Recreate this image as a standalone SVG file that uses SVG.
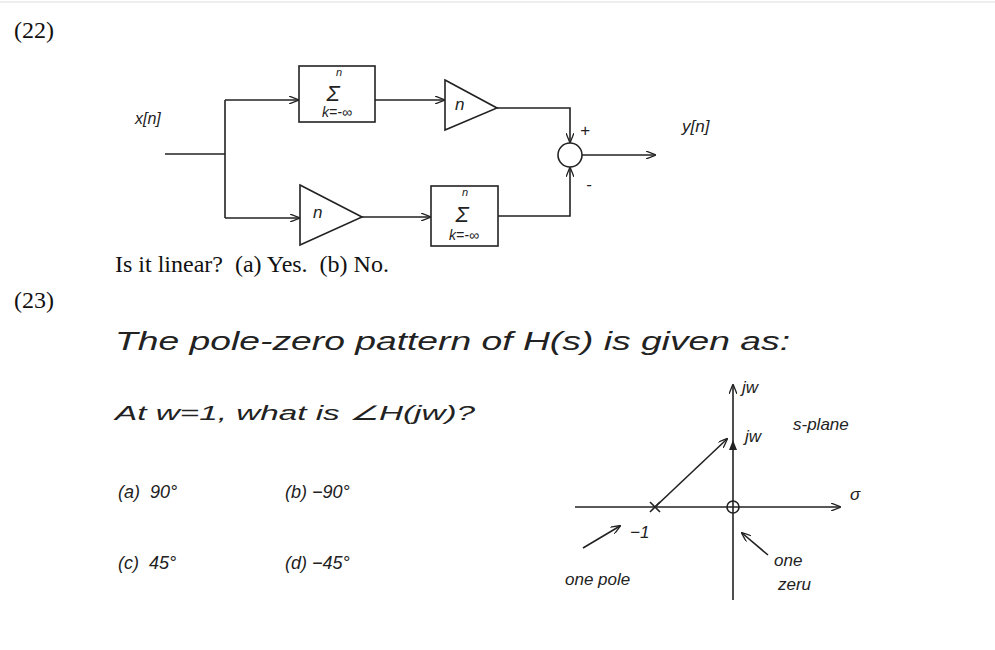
<svg xmlns="http://www.w3.org/2000/svg" width="995" height="650" viewBox="0 0 995 650">
<defs>
<marker id="ah" markerWidth="10" markerHeight="8" refX="9" refY="4" orient="auto" markerUnits="userSpaceOnUse"><path d="M0,0 L10,4 L0,8" fill="none" stroke="#222" stroke-width="1.3"/></marker>
</defs>
<style>
.l{fill:none;stroke:#222;stroke-width:1.6}
.s{fill:#fff;stroke:#222;stroke-width:1.6}
.t{font-family:"Liberation Serif",serif;font-size:24px;fill:#111}
.h{font-family:"Liberation Sans",sans-serif;font-style:italic;fill:#222}
</style>
<rect width="995" height="650" fill="#fff"/>
<line x1="0" y1="2" x2="995" y2="2" stroke="#ddd"/>
<text class="t" x="14" y="38">(22)</text>
<text class="t" x="14" y="308">(23)</text>
<text class="t" x="115" y="272" xml:space="preserve">Is it linear?  (a) Yes.  (b) No.</text>
<g id="connectors">
<path class="l" d="M165,154 H225"/>
<path class="l" d="M225,100 V218"/>
<path class="l" d="M225,100 H298" marker-end="url(#ah)"/>
<path class="l" d="M375,100 H444" marker-end="url(#ah)"/>
<path class="l" d="M497,108 H570 V142" marker-end="url(#ah)"/>
<path class="l" d="M225,218 H299" marker-end="url(#ah)"/>
<path class="l" d="M362,217 H430" marker-end="url(#ah)"/>
<path class="l" d="M498,216 H570 V168" marker-end="url(#ah)"/>
<path class="l" d="M582,155 H655" marker-end="url(#ah)"/>
</g>
<g id="in"><text class="h" x="135" y="124" font-size="16">x[n]</text></g>
<g id="sum1"><rect class="s" x="299" y="66" width="76" height="56"/><text class="h" x="339" y="76" font-size="11" text-anchor="middle">n</text><text class="h" x="333" y="101" font-size="22" text-anchor="middle">Σ</text><text class="h" x="337" y="117" font-size="14" text-anchor="middle">k=-∞</text></g>
<g id="amp1"><path class="s" d="M445,80 L497,108 L445,130 Z"/><text class="h" x="455" y="110" font-size="17">n</text></g>
<g id="amp2"><path class="s" d="M300,185 L362,217 L300,245 Z"/><text class="h" x="313" y="218" font-size="17">n</text></g>
<g id="sum2"><rect class="s" x="431" y="186" width="67" height="60"/><text class="h" x="465" y="196" font-size="11" text-anchor="middle">n</text><text class="h" x="462" y="222" font-size="22" text-anchor="middle">Σ</text><text class="h" x="464" y="240" font-size="14" text-anchor="middle">k=-∞</text></g>
<g id="adder"><circle class="s" cx="570" cy="155" r="12"/><text class="h" x="580" y="136" font-size="17">+</text><text class="h" x="586" y="190" font-size="17">-</text></g>
<g id="out"><text class="h" x="682" y="132" font-size="17">y[n]</text></g>

<g id="q23" class="h" font-size="20">
<text x="115" y="350" textLength="675" lengthAdjust="spacingAndGlyphs" font-size="25">The pole-zero pattern of H(s) is given as:</text>
<text x="115" y="420" font-size="20" textLength="360" lengthAdjust="spacingAndGlyphs">At w=1, what is ∠H(jw)?</text>
<text x="118" y="498" font-size="18" xml:space="preserve">(a)  90°</text>
<text x="285" y="498" font-size="18">(b) −90°</text>
<text x="118" y="569" font-size="18" xml:space="preserve">(c)  45°</text>
<text x="285" y="569" font-size="18">(d) −45°</text>
</g>
<g id="plane">
<path class="l" d="M733,600 V385" marker-end="url(#ah)"/>
<path class="l" d="M575,507 H840" marker-end="url(#ah)"/>
<path class="l" d="M655,507 L727,439" marker-end="url(#ah)"/>
<path d="M729,450 L733,440 L737,450 Z" fill="#222"/>
<path class="l" d="M650,502 L660,512 M660,502 L650,512"/>
<circle class="l" cx="733" cy="507" r="6"/>
<path class="l" d="M583,548 L620,526" marker-end="url(#ah)"/>
<path class="l" d="M768,555 L742,533" marker-end="url(#ah)"/>
<g class="h" font-size="17">
<text x="742" y="393">jw</text>
<text x="745" y="442">jw</text>
<text x="793" y="430">s-plane</text>
<text x="850" y="500">σ</text>
<text x="630" y="538">−1</text>
<text x="565" y="585">one pole</text>
<text x="774" y="566">one</text>
<text x="778" y="590">zeru</text>
</g>
</g>
</svg>
